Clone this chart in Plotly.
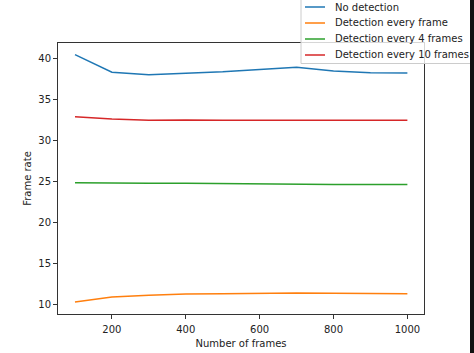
import plotly.graph_objects as go

frames = [100, 200, 300, 400, 500, 600, 700, 800, 900, 1000]
no_detection = [40.45, 38.3, 38.0, 38.2, 38.35, 38.65, 38.9, 38.45, 38.25, 38.2]
every_frame = [10.35, 10.95, 11.15, 11.3, 11.35, 11.4, 11.45, 11.4, 11.35, 11.35]
every_4 = [24.85, 24.8, 24.8, 24.8, 24.75, 24.75, 24.7, 24.65, 24.65, 24.65]
every_10 = [32.9, 32.6, 32.45, 32.5, 32.45, 32.45, 32.45, 32.4, 32.45, 32.45]

names = ["No detection", "Detection every frame", "Detection every 4 frames", "Detection every 10 frames"]
colors = ["#1f77b4", "#ff7f0e", "#2ca02c", "#d62728"]
values = [no_detection, every_frame, every_4, every_10]

fig = go.Figure()
for name, vals, col in zip(names, values, colors):
    fig.add_trace(go.Scatter(x=frames, y=vals, mode="lines", name=name, showlegend=False,
                             line=dict(color=col, width=1.5)))

W, H = 474, 353
L, R, T, B = 58, 50, 43, 39
pw, ph = W - L - R, H - T - B


def px(x):
    return (x - L) / pw


def py(y):
    return (H - B - y) / ph


axis_common = dict(showline=True, linecolor="#333333", linewidth=1, mirror=True,
                   ticks="outside", ticklen=4, tickcolor="#333333", showgrid=False,
                   zeroline=False, tickfont=dict(size=10, color="#222222"))

# legend (drawn manually, matplotlib-like compact spacing)
shapes = [dict(type="rect", xref="paper", yref="paper", x0=px(301), x1=px(480),
               y0=py(63.5), y1=py(-5), fillcolor="rgba(255,255,255,0.8)",
               line=dict(color="#cccccc", width=1), layer="above")]
annotations = []
for i, (name, col) in enumerate(zip(names, colors)):
    yc = 7 + 16 * i
    shapes.append(dict(type="line", xref="paper", yref="paper", x0=px(305), x1=px(325),
                       y0=py(yc), y1=py(yc), line=dict(color=col, width=1.5), layer="above"))
    annotations.append(dict(text=name, xref="paper", yref="paper", x=px(333), y=py(yc),
                            xanchor="left", yanchor="middle", showarrow=False,
                            font=dict(size=10, color="#222222")))

shapes.append(dict(type="rect", xref="paper", yref="paper",
                   x0=px(470), x1=px(476), y0=py(H + 2), y1=py(-2),
                   fillcolor="#111111", line=dict(width=0), layer="above"))

fig.update_layout(
    width=W, height=H,
    margin=dict(l=L, r=R, t=T, b=B, autoexpand=False),
    paper_bgcolor="white", plot_bgcolor="white",
    font=dict(family="DejaVu Sans", size=10, color="#222222"),
    showlegend=False,
    xaxis=dict(range=[54, 1045], tickvals=[200, 400, 600, 800, 1000], ticklabelstandoff=2,
               title=dict(text="Number of frames", font=dict(size=10), standoff=5), **axis_common),
    yaxis=dict(range=[8.88, 41.86], tickvals=[10, 15, 20, 25, 30, 35, 40],
               title=dict(text="Frame rate", font=dict(size=10), standoff=4), **axis_common),
    shapes=shapes,
    annotations=annotations,
)

fig.write_html("out.html")
